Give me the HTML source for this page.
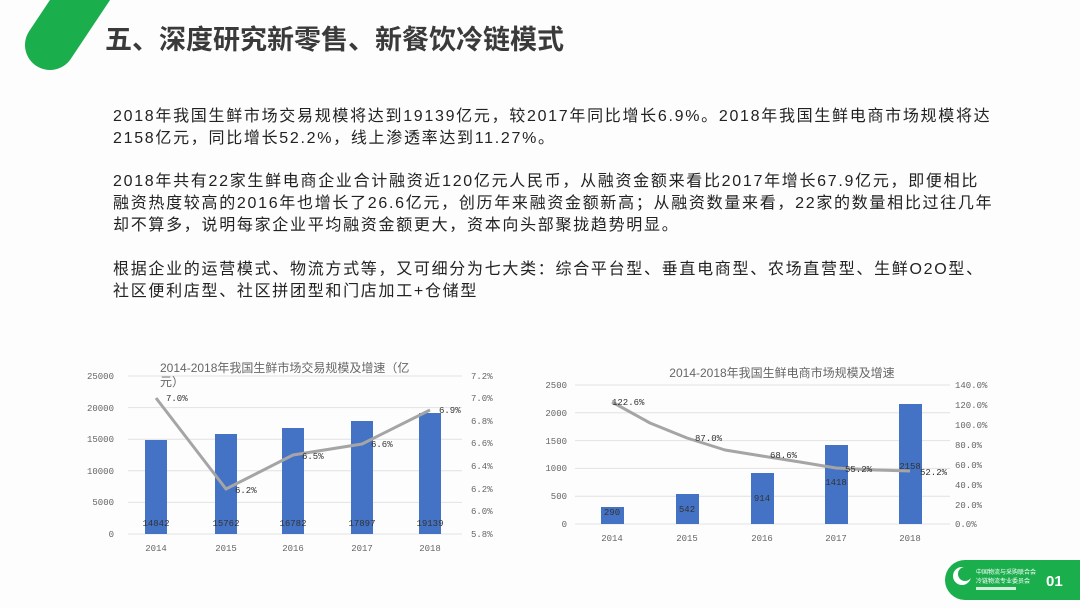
<!DOCTYPE html>
<html><head><meta charset="utf-8"><style>
body{margin:0;width:1080px;height:608px;background:#fdfdfd;overflow:hidden;position:relative;font-family:"Liberation Sans","Noto Sans CJK SC",sans-serif;}
.p{position:absolute;left:113px;font-size:16px;letter-spacing:1.7px;color:#222;line-height:22px;white-space:nowrap;}
</style></head><body>
<svg width="1080" height="608" style="position:absolute;left:0;top:0">
<line x1="50" y1="45" x2="100" y2="-30" stroke="#1aae4c" stroke-width="50" stroke-linecap="round"/>
<text x="105" y="49" font-size="27" font-weight="bold" fill="#3a3a3a" font-family="Liberation Sans,Noto Sans CJK SC,sans-serif">五、深度研究新零售、新餐饮冷链模式</text>
<!-- chart1 -->
<g font-family="Liberation Mono,Noto Sans CJK SC,monospace" font-size="9" fill="#666">
<g stroke="#e2e2e2" stroke-width="1">
<line x1="128" y1="376" x2="462" y2="376"/><line x1="128" y1="407.6" x2="462" y2="407.6"/><line x1="128" y1="439.2" x2="462" y2="439.2"/><line x1="128" y1="470.8" x2="462" y2="470.8"/><line x1="128" y1="502.4" x2="462" y2="502.4"/><line x1="128" y1="534" x2="462" y2="534"/>
</g>
<g text-anchor="end"><text x="114" y="379">25000</text><text x="114" y="411">20000</text><text x="114" y="442">15000</text><text x="114" y="474">10000</text><text x="114" y="505">5000</text><text x="114" y="537">0</text></g>
<g><text x="471" y="379">7.2%</text><text x="471" y="401">7.0%</text><text x="471" y="424">6.8%</text><text x="471" y="446">6.6%</text><text x="471" y="469">6.4%</text><text x="471" y="492">6.2%</text><text x="471" y="514">6.0%</text><text x="471" y="537">5.8%</text></g>
<g fill="#4472c4"><rect x="145" y="440" width="22" height="94"/><rect x="215" y="434" width="22" height="100"/><rect x="282" y="428" width="22" height="106"/><rect x="351" y="421" width="22" height="113"/><rect x="419" y="413" width="22" height="121"/></g>
<polyline points="156,398 226,489 293,455 362,444 430,410" fill="none" stroke="#a5a5a5" stroke-width="3"/>
<g text-anchor="middle" fill="#333"><text x="156" y="526">14842</text><text x="226" y="526">15762</text><text x="293" y="526">16782</text><text x="362" y="526">17897</text><text x="430" y="526">19139</text></g>
<g fill="#333"><text x="166" y="401">7.0%</text><text x="235" y="493">6.2%</text><text x="302" y="459">6.5%</text><text x="371" y="447">6.6%</text><text x="439" y="413">6.9%</text></g>
<g text-anchor="middle"><text x="156" y="551">2014</text><text x="226" y="551">2015</text><text x="293" y="551">2016</text><text x="362" y="551">2017</text><text x="430" y="551">2018</text></g>
<text x="160" y="372" font-size="12" font-family="Liberation Sans,Noto Sans CJK SC,sans-serif">2014-2018年我国生鲜市场交易规模及增速（亿</text>
<text x="160" y="386" font-size="12" font-family="Liberation Sans,Noto Sans CJK SC,sans-serif">元）</text>
</g>
<!-- chart2 -->
<g font-family="Liberation Mono,Noto Sans CJK SC,monospace" font-size="9" fill="#666">
<g stroke="#e2e2e2" stroke-width="1">
<line x1="575" y1="385" x2="950" y2="385"/><line x1="575" y1="412.8" x2="950" y2="412.8"/><line x1="575" y1="440.6" x2="950" y2="440.6"/><line x1="575" y1="468.4" x2="950" y2="468.4"/><line x1="575" y1="496.2" x2="950" y2="496.2"/><line x1="575" y1="524" x2="950" y2="524"/>
</g>
<g text-anchor="end"><text x="567" y="388">2500</text><text x="567" y="416">2000</text><text x="567" y="444">1500</text><text x="567" y="471">1000</text><text x="567" y="499">500</text><text x="567" y="527">0</text></g>
<g><text x="955" y="388">140.0%</text><text x="955" y="408">120.0%</text><text x="955" y="428">100.0%</text><text x="955" y="448">80.0%</text><text x="955" y="468">60.0%</text><text x="955" y="488">40.0%</text><text x="955" y="508">20.0%</text><text x="955" y="527">0.0%</text></g>
<g fill="#4472c4"><rect x="601" y="507" width="23" height="17"/><rect x="676" y="494" width="23" height="30"/><rect x="751" y="473" width="23" height="51"/><rect x="825" y="445" width="23" height="79"/><rect x="899" y="404" width="23" height="120"/></g>
<polyline points="612,402 650,423 687,438 725,450 762,456 800,462 836,468 875,470 910,471" fill="none" stroke="#a5a5a5" stroke-width="3" stroke-linejoin="round"/>
<g text-anchor="middle" fill="#333"><text x="612" y="515">290</text><text x="687" y="512">542</text><text x="762" y="501">914</text><text x="836" y="485">1418</text><text x="910" y="469">2158</text></g>
<g fill="#333"><text x="612" y="405">122.6%</text><text x="695" y="441">87.0%</text><text x="770" y="458">68.6%</text><text x="845" y="472">55.2%</text><text x="920" y="475">52.2%</text></g>
<g text-anchor="middle"><text x="612" y="541">2014</text><text x="687" y="541">2015</text><text x="762" y="541">2016</text><text x="836" y="541">2017</text><text x="910" y="541">2018</text></g>
<text x="782" y="377" text-anchor="middle" font-size="12" font-family="Liberation Sans,Noto Sans CJK SC,sans-serif">2014-2018年我国生鲜电商市场规模及增速</text>
</g>
<!-- logo tab -->
<path d="M965,560 H1080 V600 H965 A20,20 0 0 1 965,560 Z" fill="#1aae4c"/>
<circle cx="962" cy="576" r="9" fill="#fff"/><circle cx="965" cy="574" r="7" fill="#1aae4c"/>
<text x="976" y="574" font-size="6" fill="#fff" font-family="Noto Sans CJK SC,sans-serif">中国物流与采购联合会</text>
<text x="976" y="583" font-size="6" fill="#fff" font-family="Noto Sans CJK SC,sans-serif">冷链物流专业委员会</text>
<rect x="976" y="587" width="40" height="3" fill="#fff" opacity="0.8"/>
<text x="1046" y="586" font-size="15" font-weight="bold" fill="#fff">01</text>
</svg>
<div class="p" style="top:106px">2018年我国生鲜市场交易规模将达到19139亿元，较2017年同比增长6.9%。2018年我国生鲜电商市场规模将达<br>2158亿元，同比增长52.2%，线上渗透率达到11.27%。</div>
<div class="p" style="top:171px">2018年共有22家生鲜电商企业合计融资近120亿元人民币，从融资金额来看比2017年增长67.9亿元，即便相比<br>融资热度较高的2016年也增长了26.6亿元，创历年来融资金额新高；从融资数量来看，22家的数量相比过往几年<br>却不算多，说明每家企业平均融资金额更大，资本向头部聚拢趋势明显。</div>
<div class="p" style="top:259px">根据企业的运营模式、物流方式等，又可细分为七大类：综合平台型、垂直电商型、农场直营型、生鲜O2O型、<br>社区便利店型、社区拼团型和门店加工+仓储型</div>
</body></html>
